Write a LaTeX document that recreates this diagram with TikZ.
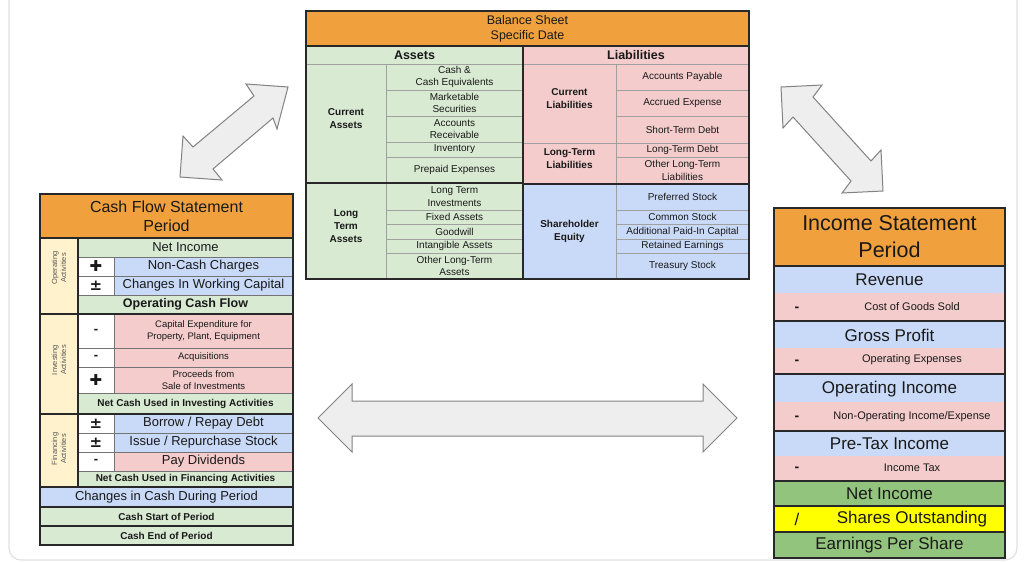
\documentclass[tikz,border=0pt]{standalone}
\usepackage{fontspec}
\setmainfont{Liberation Sans}
\newfontfamily\dejavu{DejaVu Sans}
\definecolor{hdr}{RGB}{240,161,62}
\definecolor{gL}{RGB}{217,234,211}
\definecolor{pL}{RGB}{244,204,204}
\definecolor{bL}{RGB}{201,218,248}
\definecolor{yL}{RGB}{255,242,204}
\definecolor{gM}{RGB}{147,196,125}
\definecolor{yB}{RGB}{255,255,0}
\definecolor{gridc}{RGB}{160,160,160}
\definecolor{darkc}{RGB}{40,40,40}
\definecolor{txtc}{RGB}{25,25,25}
\definecolor{arrfill}{RGB}{238,238,238}
\definecolor{arrline}{RGB}{130,130,130}
\newcommand\fs[2]{\fontsize{#1}{#2}\selectfont}
\newcommand\cellbox[8]{%
  \filldraw[fill=#6,draw=gridc,line width=0.6pt] (#2,#3) rectangle (#4,#5);
  \node[txt,#7] (#1) at ({(#2+#4)/2},{(#3+#5)/2}) {#8};}
\begin{document}
\begin{tikzpicture}[x=1pt,y=-1pt,
  txt/.style={inner sep=0pt,align=center,text=txtc},
  bsh/.style={font={\fs{12.5}{15}}},
  bsc/.style={font={\fs{12.5}{15}\bfseries}},
  bscat/.style={font={\fs{10}{13}\bfseries}},
  bsi/.style={font={\fs{10}{12.5}}},
  cfh/.style={font={\fs{16}{19}}},
  cf13/.style={font={\fs{13}{15}}},
  cfb/.style={font={\fs{12.5}{15}\bfseries}},
  cfs/.style={font={\fs{9.5}{12.5}}},
  cfsb/.style={font={\fs{10}{12}\bfseries}},
  side/.style={inner sep=0pt,align=center,font={\fs{7.5}{9}},text=black!65,rotate=90},
  sgn/.style={font={\dejavu\fs{15}{15}}},
  sgpm/.style={font={\dejavu\fs{15}{15}\bfseries}},
  sgm/.style={font={\fs{13}{13}\bfseries}},
  ish/.style={font={\fs{21.5}{27}}},
  is17/.style={font={\fs{17}{20}}},
  is11/.style={font={\fs{11}{13}}},
  isg/.style={font={\fs{14}{14}\bfseries}},
  dk/.style={draw=darkc,line width=1.2pt},
  dkk/.style={draw=darkc,line width=1.6pt},
  bigarrow/.style={fill=arrfill,draw=arrline,line width=1pt,line join=miter}]
\useasboundingbox (0,0) rectangle (1026,562);
\draw[black!12,line width=1.2pt,rounded corners=12pt] (9,-30) rectangle (1017,560);

% ---------------- Balance sheet ----------------
\cellbox{bsH}{306}{11}{749}{46}{hdr}{bsh}{Balance Sheet\\Specific Date}
\cellbox{bsA}{306}{46}{523}{64}{gL}{bsc}{Assets}
\cellbox{bsL}{523}{46}{749}{64}{pL}{bsc}{Liabilities}
\cellbox{bsCA}{306}{64}{386}{183}{gL}{bscat,yshift=5pt}{Current\\Assets}
\cellbox{a1}{386}{64}{523}{90}{gL}{bsi}{Cash \&\\Cash Equivalents}
\cellbox{a2}{386}{90}{523}{116}{gL}{bsi}{Marketable\\Securities}
\cellbox{a3}{386}{116}{523}{142}{gL}{bsi}{Accounts\\Receivable}
\cellbox{a4}{386}{142}{523}{157}{gL}{bsi}{Inventory}
\cellbox{a5}{386}{157}{523}{183}{gL}{bsi}{Prepaid Expenses}
\cellbox{bsLT}{306}{183}{386}{279}{gL}{bscat,yshift=5pt}{Long\\Term\\Assets}
\cellbox{a6}{386}{183}{523}{210}{gL}{bsi}{Long Term\\Investments}
\cellbox{a7}{386}{210}{523}{224}{gL}{bsi}{Fixed Assets}
\cellbox{a8}{386}{224}{523}{239}{gL}{bsi}{Goodwill}
\cellbox{a9}{386}{239}{523}{253}{gL}{bsi}{Intangible Assets}
\cellbox{a10}{386}{253}{523}{279}{gL}{bsi}{Other Long-Term\\Assets}
\cellbox{bsCL}{523}{64}{616}{143}{pL}{bscat,yshift=5pt}{Current\\Liabilities}
\cellbox{l1}{616}{64}{749}{90}{pL}{bsi}{Accounts Payable}
\cellbox{l2}{616}{90}{749}{116}{pL}{bsi}{Accrued Expense}
\cellbox{l3}{616}{116}{749}{143}{pL}{bsi}{Short-Term Debt}
\cellbox{bsLL}{523}{143}{616}{184}{pL}{bscat,yshift=5pt}{Long-Term\\Liabilities}
\cellbox{l4}{616}{143}{749}{157}{pL}{bsi}{Long-Term Debt}
\cellbox{l5}{616}{157}{749}{184}{pL}{bsi}{Other Long-Term\\Liabilities}
\cellbox{bsSE}{523}{184}{616}{279}{bL}{bscat}{Shareholder\\Equity}
\cellbox{e1}{616}{184}{749}{210}{bL}{bsi}{Preferred Stock}
\cellbox{e2}{616}{210}{749}{224}{bL}{bsi}{Common Stock}
\cellbox{e3}{616}{224}{749}{239}{bL}{bsi}{Additional Paid-In Capital}
\cellbox{e4}{616}{239}{749}{253}{bL}{bsi}{Retained Earnings}
\cellbox{e5}{616}{253}{749}{279}{bL}{bsi}{Treasury Stock}
\draw[dk] (306,11) rectangle (749,279);
\draw[dk] (306,46) -- (749,46);
\draw[dk] (523,46) -- (523,279);
\draw[dk] (306,183) -- (523,183);
\draw[dk] (523,184) -- (749,184);

% ---------------- Cash flow statement ----------------
\colorlet{gridc}{black!55}
\cellbox{cfH}{40}{194}{293}{238}{hdr}{cfh}{Cash Flow Statement\\Period}
\filldraw[fill=yL,draw=gridc,line width=0.6pt] (40,238) rectangle (78,314);
\node[side] (sOp) at (59,268) {Operating\\Activities};
\filldraw[fill=yL,draw=gridc,line width=0.6pt] (40,314) rectangle (78,414);
\node[side] (sInv) at (59,360) {Investing\\Activities};
\filldraw[fill=yL,draw=gridc,line width=0.6pt] (40,414) rectangle (78,487);
\node[side] (sFin) at (59,449) {Financing\\Activities};
\cellbox{cfNI}{78}{238}{293}{257}{gL}{cf13}{Net Income}
\cellbox{sg1}{78}{257}{114}{276}{white}{sgn}{✚}
\cellbox{cfNC}{114}{257}{293}{276}{bL}{cf13}{Non-Cash Charges}
\cellbox{sg2}{78}{276}{114}{295}{white}{sgpm}{±}
\cellbox{cfWC}{114}{276}{293}{295}{bL}{cf13}{Changes In Working Capital}
\cellbox{cfOCF}{78}{295}{293}{314}{gL}{cfb}{Operating Cash Flow}
\cellbox{sg3}{78}{314}{114}{348}{white}{sgm}{-}
\cellbox{cfCap}{114}{314}{293}{348}{pL}{cfs}{Capital Expenditure for\\Property, Plant, Equipment}
\cellbox{sg4}{78}{348}{114}{367}{white}{sgm}{-}
\cellbox{cfAcq}{114}{348}{293}{367}{pL}{cfs}{Acquisitions}
\cellbox{sg5}{78}{367}{114}{393}{white}{sgn}{✚}
\cellbox{cfPro}{114}{367}{293}{393}{pL}{cfs}{Proceeds from\\Sale of Investments}
\cellbox{cfNCI}{78}{393}{293}{414}{gL}{cfsb}{Net Cash Used in Investing Activities}
\cellbox{sg6}{78}{414}{114}{433}{white}{sgpm}{±}
\cellbox{cfBor}{114}{414}{293}{433}{bL}{cf13}{Borrow / Repay Debt}
\cellbox{sg7}{78}{433}{114}{452}{white}{sgpm}{±}
\cellbox{cfIss}{114}{433}{293}{452}{bL}{cf13}{Issue / Repurchase Stock}
\cellbox{sg8}{78}{452}{114}{471}{white}{sgm}{-}
\cellbox{cfDiv}{114}{452}{293}{471}{pL}{cf13}{Pay Dividends}
\cellbox{cfNCF}{78}{471}{293}{487}{gL}{cfsb}{Net Cash Used in Financing Activities}
\cellbox{cfChg}{40}{487}{293}{507}{bL}{cf13}{Changes in Cash During Period}
\cellbox{cfSt}{40}{507}{293}{526}{gL}{cfsb}{Cash Start of Period}
\cellbox{cfEnd}{40}{526}{293}{545}{gL}{cfsb}{Cash End of Period}
\draw[dk] (40,194) rectangle (293,545);
\draw[dk] (40,238) -- (293,238);
\draw[dk] (78,238) -- (78,487);
\draw[dk] (40,314) -- (293,314);
\draw[dk] (40,414) -- (293,414);
\draw[dk] (40,487) -- (293,487);
\draw[dk] (40,507) -- (293,507);
\draw[dk] (40,526) -- (293,526);

% ---------------- Income statement ----------------
\fill[hdr] (774,208) rectangle (1005,266);
\node[txt,ish] (isH) at (889.5,237) {Income Statement\\Period};
\fill[bL] (774,266) rectangle (1005,293);
\node[txt,is17] (isRev) at (889.5,280) {Revenue};
\fill[pL] (774,293) rectangle (1005,321);
\node[txt,isg] (isS1) at (797,309) {-};
\node[txt,is11] (isCOGS) at (912,307) {Cost of Goods Sold};
\fill[bL] (774,321) rectangle (1005,348);
\node[txt,is17] (isGP) at (889.5,335) {Gross Profit};
\fill[pL] (774,348) rectangle (1005,374);
\node[txt,isg] (isS2) at (797,362) {-};
\node[txt,is11] (isOpEx) at (912,360) {Operating Expenses};
\fill[bL] (774,374) rectangle (1005,402);
\node[txt,is17] (isOI) at (889.5,389) {Operating Income};
\fill[pL] (774,402) rectangle (1005,431);
\node[txt,isg] (isS3) at (797,418) {-};
\node[txt,is11] (isNOI) at (912,416.5) {Non-Operating Income/Expense};
\fill[bL] (774,431) rectangle (1005,456);
\node[txt,is17] (isPT) at (889.5,443.5) {Pre-Tax Income};
\fill[pL] (774,456) rectangle (1005,481);
\node[txt,isg] (isS4) at (797,469) {-};
\node[txt,is11] (isTax) at (912,468) {Income Tax};
\fill[gM] (774,481) rectangle (1005,506);
\node[txt,is17] (isNI) at (889.5,494) {Net Income};
\fill[yB] (774,506) rectangle (1005,532);
\node[txt,is17] (isSl) at (797,519) {/};
\node[txt,is17] (isSO) at (912,519) {Shares Outstanding};
\fill[gM] (774,532) rectangle (1005,558);
\node[txt,is17] (isEPS) at (889.5,545) {Earnings Per Share};
\draw[dkk] (774,208) rectangle (1005,558);
\foreach \yy in {266,321,374,431,481,506,532} \draw[dkk] (774,\yy) -- (1005,\yy);

% ---------------- Block arrows ----------------
\draw[bigarrow] (288,87) -- (246,84) -- (254,96) -- (193,147) -- (183,136) -- (180,177) -- (222,180) -- (213,169) -- (273,118) -- (277,129) -- cycle;
\draw[bigarrow] (781,87) -- (822,85) -- (813,97) -- (871,161) -- (881,150) -- (883,191) -- (842,193) -- (851,181) -- (793,117) -- (783,128) -- cycle;
\draw[bigarrow] (318,418) -- (352,384) -- (352,401) -- (703,401) -- (703,384) -- (737,418) -- (703,452) -- (703,436) -- (352,436) -- (352,452) -- cycle;
\end{tikzpicture}
\end{document}
